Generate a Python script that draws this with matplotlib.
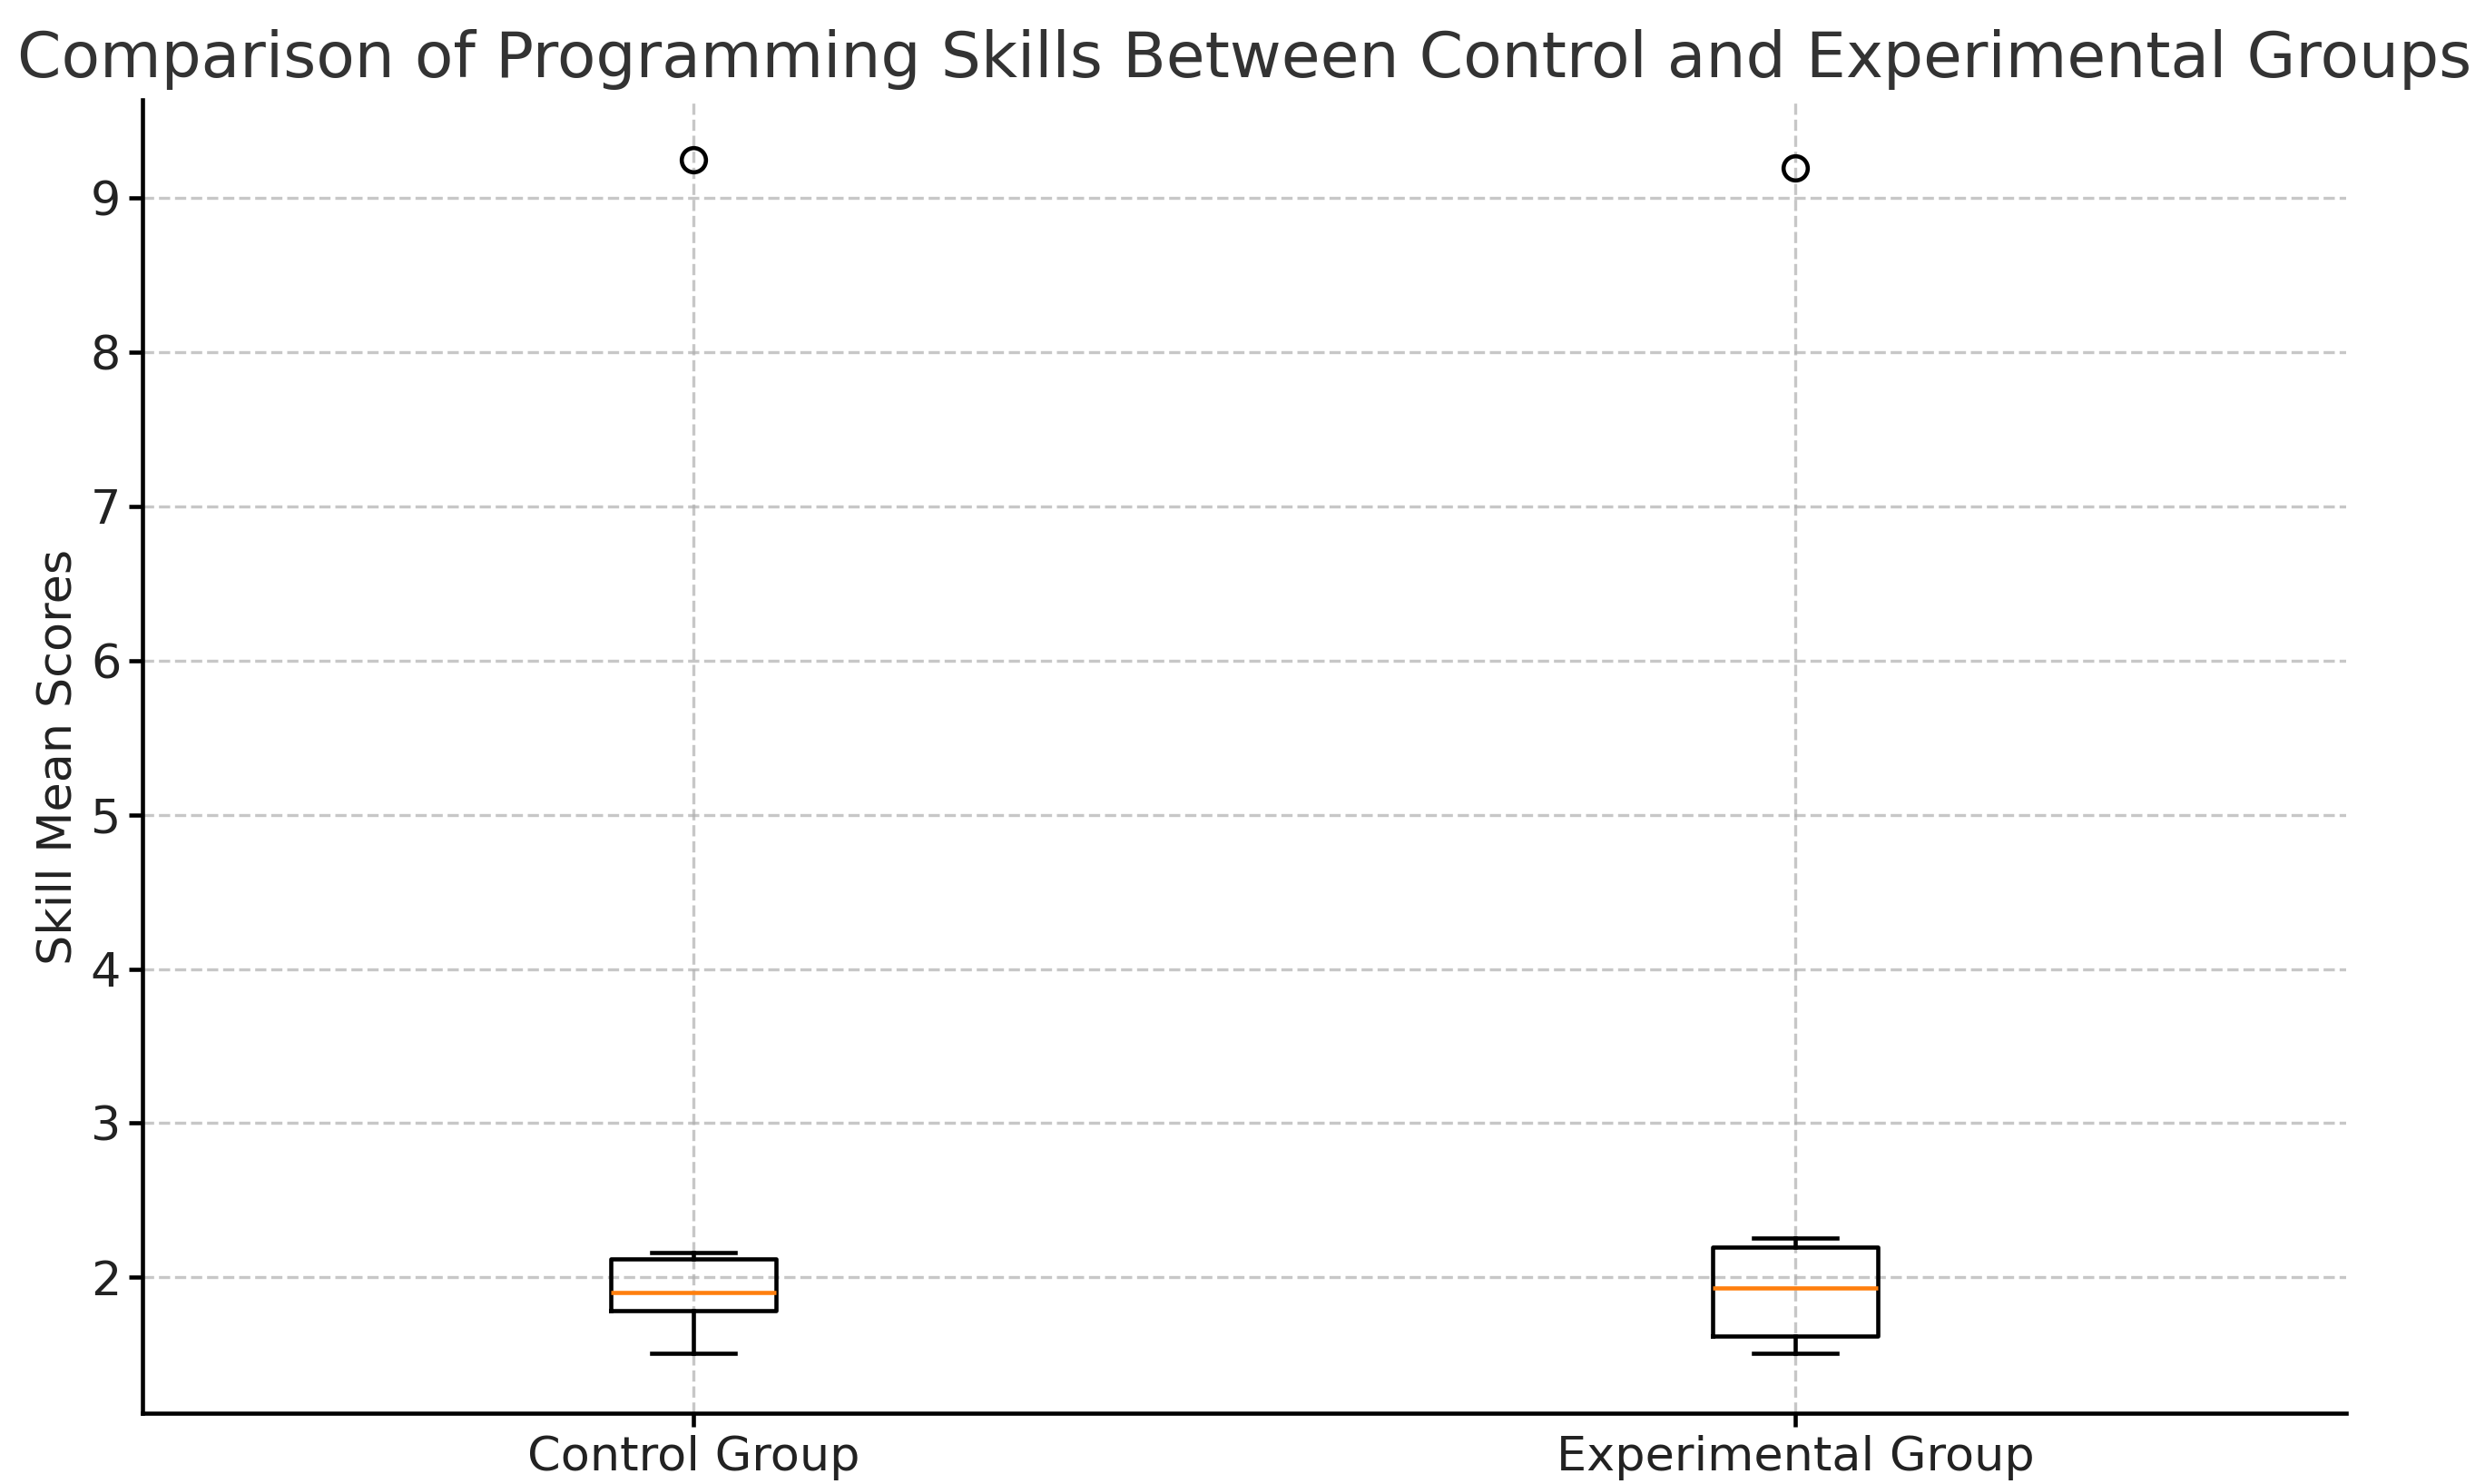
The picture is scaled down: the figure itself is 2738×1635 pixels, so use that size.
import matplotlib
matplotlib.use("Agg")
import matplotlib.pyplot as plt

# Box statistics
groups = ["Control Group", "Experimental Group"]
medians = [1.90, 1.93]
q1 = [1.785, 1.617]
q3 = [2.118, 2.198]
whisker_low = [1.506, 1.506]
whisker_high = [2.161, 2.255]
outliers = [[9.25], [9.195]]

stats = []
for i, name in enumerate(groups):
    stats.append({
        "label": name,
        "med": medians[i],
        "q1": q1[i],
        "q3": q3[i],
        "whislo": whisker_low[i],
        "whishi": whisker_high[i],
        "fliers": outliers[i],
    })

fig = plt.figure(figsize=(2738 / 300, 1635 / 300), dpi=300)
ax = fig.add_axes([157 / 2738, 1 - 1557 / 1635, (2585 - 157) / 2738, (1557 - 110) / 1635])

lw = 1.1
ax.bxp(stats, positions=[1, 2],
       boxprops=dict(linewidth=lw),
       whiskerprops=dict(linewidth=lw),
       capprops=dict(linewidth=lw),
       medianprops=dict(linewidth=lw, color="#ff7f0e"),
       flierprops=dict(markersize=6.4, markeredgewidth=lw))

ax.set_title("Comparison of Programming Skills Between Control and Experimental Groups",
             fontsize=16.7, color="#333333")
ax.set_ylabel("Skill Mean Scores", fontsize=12.6, color="#222222", labelpad=2.5)
ax.tick_params(axis="both", labelsize=12.6, labelcolor="#222222", width=lw, pad=2.2)
ax.grid(True, linestyle="--", alpha=0.7)

ax.spines["top"].set_visible(False)
ax.spines["right"].set_visible(False)
for side in ["left", "bottom"]:
    ax.spines[side].set_linewidth(lw)

fig.savefig("out.png", dpi=300)
